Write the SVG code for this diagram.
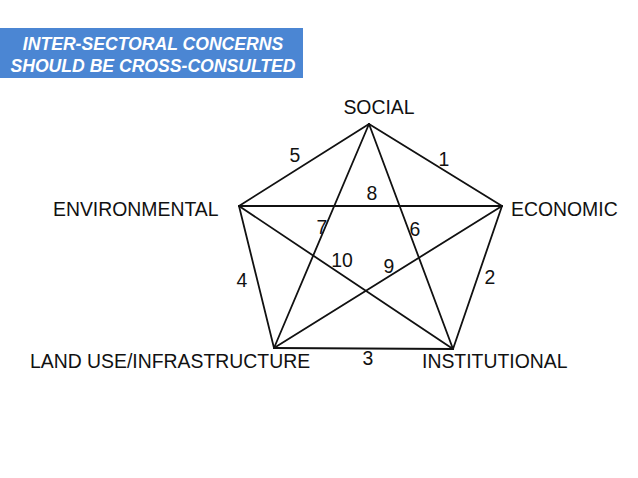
<svg xmlns="http://www.w3.org/2000/svg" width="638" height="478" viewBox="0 0 638 478">
<style>
.lbl{font-family:"Liberation Sans",Arial,sans-serif;font-size:19.4px;fill:#111111}
.num{font-family:"Liberation Sans",Arial,sans-serif;font-size:19.4px;fill:#111111;text-anchor:middle}
.ttl{font-family:"Liberation Sans",Arial,sans-serif;font-size:17.6px;font-weight:bold;font-style:italic;fill:#ffffff;text-anchor:middle}
.edge{stroke:#111111;stroke-width:1.8;fill:none;stroke-linecap:round}
</style>
<rect width="638" height="478" fill="#ffffff"/>
<g id="title">
<rect x="0" y="28" width="303" height="50" fill="#4B86D3"/>
<text class="ttl" x="153" y="50">INTER-SECTORAL CONCERNS</text>
<text class="ttl" x="153" y="72">SHOULD BE CROSS-CONSULTED</text>
</g>
<g id="connectors">
<line class="edge" x1="369" y1="124" x2="502" y2="206"/>
<line class="edge" x1="502" y1="206" x2="453" y2="349"/>
<line class="edge" x1="453" y1="349" x2="274" y2="348"/>
<line class="edge" x1="274" y1="348" x2="239" y2="206"/>
<line class="edge" x1="239" y1="206" x2="369" y2="124"/>
<line class="edge" x1="369" y1="124" x2="453" y2="349"/>
<line class="edge" x1="369" y1="124" x2="274" y2="348"/>
<line class="edge" x1="239" y1="206" x2="502" y2="206"/>
<line class="edge" x1="502" y1="206" x2="274" y2="348"/>
<line class="edge" x1="239" y1="206" x2="453" y2="349"/>
<text class="num" x="444" y="166">1</text>
<text class="num" x="490" y="284">2</text>
<text class="num" x="368" y="365">3</text>
<text class="num" x="242" y="287">4</text>
<text class="num" x="295" y="162">5</text>
<text class="num" x="415" y="236">6</text>
<text class="num" x="322" y="234">7</text>
<text class="num" x="372" y="200">8</text>
<text class="num" x="389" y="273">9</text>
<text class="num" x="342" y="267">10</text>
</g>
<g id="social"><text class="lbl" x="379" y="114" text-anchor="middle">SOCIAL</text></g>
<g id="environmental"><text class="lbl" x="53" y="216">ENVIRONMENTAL</text></g>
<g id="economic"><text class="lbl" x="511" y="216">ECONOMIC</text></g>
<g id="landuse"><text class="lbl" x="30" y="368">LAND USE/INFRASTRUCTURE</text></g>
<g id="institutional"><text class="lbl" x="422" y="368">INSTITUTIONAL</text></g>
</svg>
